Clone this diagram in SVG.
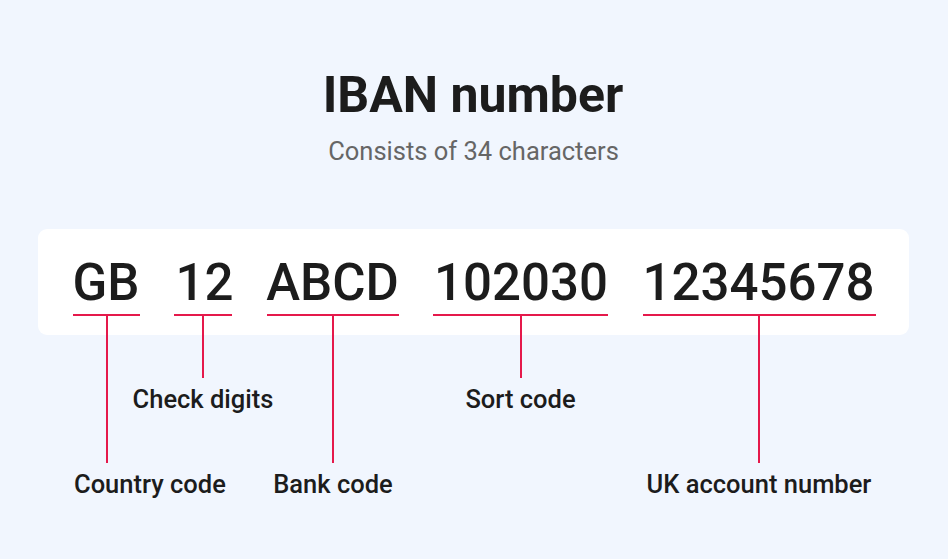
<svg xmlns="http://www.w3.org/2000/svg" width="948" height="559" viewBox="0 0 948 559">
<style>
text{font-family:Roboto,"Liberation Sans",sans-serif;fill:#1c1c1c}
.title{font-size:50px;font-weight:700;text-anchor:middle}
.sub{font-size:25.5px;font-weight:400;fill:#666;text-anchor:middle}
.code{font-size:51px;font-weight:500;text-anchor:middle}
.lbl{font-size:25.5px;font-weight:500;text-anchor:middle}
.ln{stroke:#e5194b;stroke-width:2;fill:none}
</style>
<rect width="948" height="559" fill="#f1f6fe"/>
<g id="header">
<text class="title" x="473" y="112">IBAN number</text>
<text class="sub" x="473.5" y="160">Consists of 34 characters</text>
</g>
<rect id="card" x="38" y="229" width="871" height="106" rx="9" fill="#ffffff"/>
<g id="gb"><text class="code" x="106" y="300">GB</text></g>
<g id="n12"><text class="code" x="204.5" y="300">12</text></g>
<g id="abcd"><text class="code" x="332.5" y="300">ABCD</text></g>
<g id="sort"><text class="code" x="521" y="300">102030</text></g>
<g id="acct"><text class="code" x="758.5" y="300">12345678</text></g>
<g id="connectors">
<path class="ln" d="M73 315H140M107 315V463"/>
<path class="ln" d="M174 315H232M203 315V378"/>
<path class="ln" d="M267 315H399M333 315V463"/>
<path class="ln" d="M433 315H608M521 315V378"/>
<path class="ln" d="M643 315H876M759 315V463"/>
</g>
<g id="labels">
<text class="lbl" x="203" y="408">Check digits</text>
<text class="lbl" x="520.5" y="408">Sort code</text>
<text class="lbl" x="74" y="493" style="text-anchor:start">Country code</text>
<text class="lbl" x="333" y="493">Bank code</text>
<text class="lbl" x="759" y="493">UK account number</text>
</g>
</svg>
